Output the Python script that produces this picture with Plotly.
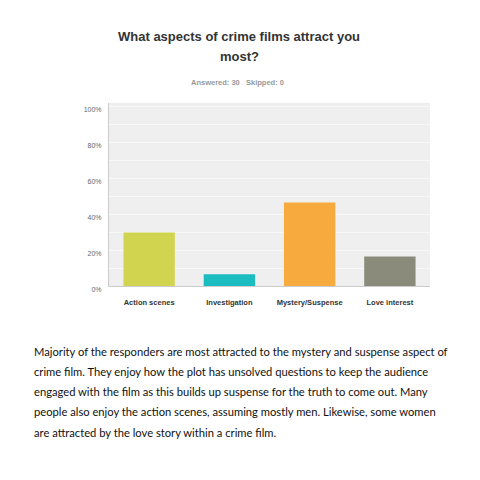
import plotly.graph_objects as go

categories = ["Action scenes", "Investigation", "Mystery/Suspense", "Love interest"]
percent = [30.0, 6.67, 46.67, 16.67]
bar_colors = ["#d0d44f", "#1cbdc0", "#f7ab3f", "#8a8b7a"]
y_tick_values = [0, 20, 40, 60, 80, 100]
y_tick_labels = ["0%", "20%", "40%", "60%", "80%", "100%"]

title_lines = ["What aspects of crime films attract you", "most?"]
answered_text = "Answered: 30"
skipped_text = "Skipped: 0"
paragraph_lines = [
    "Majority of the responders are most attracted to the mystery and suspense aspect of",
    "crime film. They enjoy how the plot has unsolved questions to keep the audience",
    "engaged with the film as this builds up suspense for the truth to come out. Many",
    "people also enjoy the action scenes, assuming mostly men. Likewise, some women",
    "are attracted by the love story within a crime film.",
]

# the page body has an 8px margin; keep the figure inside the 480px window
PAD = 8
W = 480 - 2 * PAD
H = 480 - 2 * PAD


def px_x(x):
    return (x - PAD) / W


def px_y(y):
    return 1 - (y - PAD) / H


fig = go.Figure(
    go.Bar(
        x=categories,
        y=percent,
        marker=dict(color=bar_colors, line=dict(width=0)),
        hoverinfo="skip",
    )
)

annotations = []
for i, line in enumerate(title_lines):
    annotations.append(dict(
        text=f"<b>{line}</b>", x=px_x(239), y=px_y(37 + 20 * i),
        xref="paper", yref="paper", xanchor="center", yanchor="middle",
        showarrow=False, font=dict(family="Liberation Sans, Arial", size=13, color="#333333"),
    ))
annotations.append(dict(
    text=answered_text, x=px_x(215), y=px_y(83), xref="paper", yref="paper",
    xanchor="center", yanchor="middle", showarrow=False,
    font=dict(family="Liberation Sans, Arial", size=7.5, color="#999999", weight="bold"),
))
annotations.append(dict(
    text=skipped_text, x=px_x(265), y=px_y(83), xref="paper", yref="paper",
    xanchor="center", yanchor="middle", showarrow=False,
    font=dict(family="Liberation Sans, Arial", size=7.5, color="#999999", weight="bold"),
))
for i, line in enumerate(paragraph_lines):
    annotations.append(dict(
        text=line, x=px_x(32), y=px_y(356 + 20.4 * i), xref="paper", yref="paper",
        xanchor="left", yanchor="middle", showarrow=False,
        font=dict(family="Lato", size=11.2, color="#111111"),
    ))

fig.update_layout(
    width=W,
    height=H,
    margin=dict(l=0, r=0, t=0, b=0),
    paper_bgcolor="white",
    plot_bgcolor="#efefef",
    showlegend=False,
    bargap=0.36,
    annotations=annotations,
    xaxis=dict(
        domain=[px_x(109), px_x(430)],
        showgrid=False,
        showline=True,
        linecolor="#cccccc",
        linewidth=1,
        ticks="",
        ticklabelstandoff=9,
        tickfont=dict(family="Liberation Sans, Arial", size=7.5, color="#333333", weight="bold"),
        fixedrange=True,
    ),
    yaxis=dict(
        domain=[px_y(290), px_y(104)],
        range=[0, 102.2],
        tickvals=y_tick_values,
        ticktext=y_tick_labels,
        tickfont=dict(family="Liberation Sans, Arial", size=7, color="#666666"),
        showgrid=True,
        gridcolor="#f8f8f8",
        gridwidth=1,
        minor=dict(dtick=10, showgrid=True, gridcolor="#f8f8f8", gridwidth=1),
        showline=True,
        linecolor="#cccccc",
        linewidth=1,
        zeroline=False,
        ticks="",
        ticklabelstandoff=5,
        ticklabelshift=3,
        fixedrange=True,
    ),
)

fig.write_html("out.html", config={"displayModeBar": False})
